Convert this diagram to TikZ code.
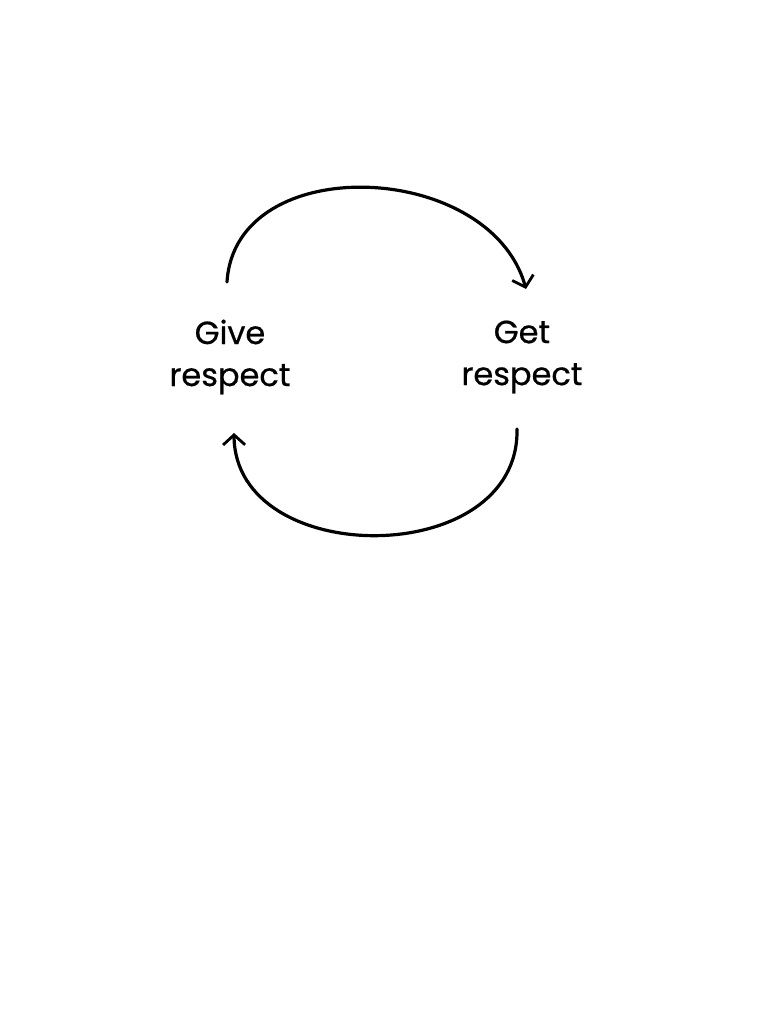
\documentclass[tikz,border=0pt]{standalone}
\usepackage{fontspec}
\setmainfont{Poppins}[FakeBold=0.6]
\usetikzlibrary{arrows.meta}
\begin{document}
\begin{tikzpicture}[x=1pt,y=-1pt,
  lbl/.style={align=center,font=\fontsize{32}{42}\selectfont,inner sep=0pt},
  arc/.style={line width=3.2pt,line cap=round,-{Straight Barb[length=10pt,width=22pt,line width=2.8pt]}}]
\useasboundingbox[fill=white] (0,0) rectangle (768,1024);
\node[lbl] (give) at (230,357) {Give\\respect};
\node[lbl] (get) at (522,357) {Get\\respect};
\coordinate (a1) at (227,282);
\coordinate (a2) at (526,289);
\coordinate (b1) at (517,429);
\coordinate (b2) at (234,433);
\draw[arc] (a1) .. controls (235,150) and (490,160) .. (a2);
\draw[arc] (b1) .. controls (520,570) and (235,570) .. (b2);
\end{tikzpicture}
\end{document}
